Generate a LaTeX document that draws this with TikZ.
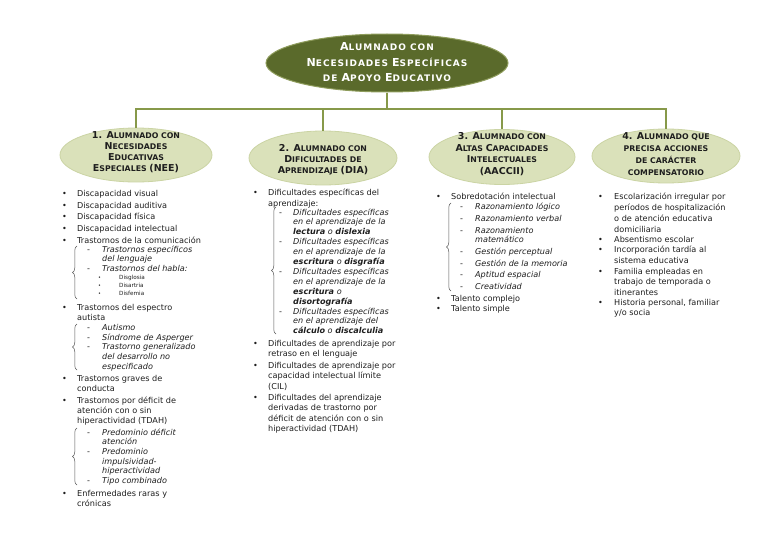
\documentclass[tikz,border=0pt]{standalone}
\usepackage{fontspec}
\setmainfont{DejaVu Sans}
\usetikzlibrary{shapes.geometric,decorations.pathreplacing}
\definecolor{darkolive}{HTML}{5A6A2B}
\definecolor{oliveedge}{HTML}{8E9C5C}
\definecolor{sage}{HTML}{DAE1BA}
\definecolor{sageedge}{HTML}{CBD4A4}
\definecolor{connc}{HTML}{87994A}
\definecolor{txtc}{HTML}{1E1E1E}
\definecolor{bracec}{HTML}{555555}
\newcommand\mainsz{\fontsize{8.15}{10.5}\selectfont}
\newcommand\subsz{\fontsize{8.1}{9.7}\selectfont\itshape}
\newcommand\smsz{\fontsize{5.7}{8}\selectfont}
\newcommand\hB[1]{{\fontsize{9.5}{11}\selectfont #1}}
\newcommand\tB[1]{{\fontsize{11}{15.5}\selectfont #1}}
\newcommand\Bul{\makebox[15pt][l]{•}}
\newcommand\BulW{\makebox[16pt][l]{•}}
\newcommand\Ind{\hspace*{15pt}}
\newcommand\IndW{\hspace*{16pt}}
\newcommand\Dsh{\makebox[15pt][l]{\upshape -}}
\newcommand\Dsi{\makebox[14pt][l]{\upshape -}}
\newcommand\Ids{\hspace*{14pt}}
\newcommand\Sdot{\makebox[21pt][l]{{\fontsize{5}{5}\selectfont •}}}
\newcommand\firstrule{\rule{0pt}{8pt}}
\tikzset{
  conn/.style={draw=connc, line width=1.8pt},
  topell/.style={ellipse, fill=darkolive, draw=oliveedge, line width=1pt,
    minimum width=242pt, minimum height=58pt, inner sep=0pt},
  kidell/.style={ellipse, fill=sage, draw=sageedge, line width=0.8pt, inner sep=0pt},
  toptxt/.style={text=white, inner sep=0pt, align=center,
    font=\bfseries\addfontfeature{LetterSpace=11}\fontsize{9}{15.5}\selectfont},
  kidtxt/.style={text=txtc, inner sep=0pt, align=center,
    font=\bfseries\fontsize{7.8}{11}\selectfont},
  itm/.style={anchor=north west, yshift=6pt, inner sep=0pt, align=left,
    text=txtc, font=\mainsz, execute at begin node=\firstrule},
  subitm/.style={itm, font=\subsz},
  smitm/.style={itm, font=\smsz},
  brc/.style={draw=bracec, line width=0.5pt, decorate,
    decoration={brace, amplitude=4.5pt}}
}
\begin{document}
\begin{tikzpicture}[x=1pt,y=-1pt]
\useasboundingbox[fill=white] (0,0) rectangle (768,543);

% ellipses
\node[topell] (top) at (387,63) {};
\node[toptxt] (toptext) at (387,62.5) {\tB{A}LUMNADO CON\\\tB{N}ECESIDADES \tB{E}SPECÍFICAS\\DE \tB{A}POYO \tB{E}DUCATIVO};

\node[kidell, minimum width=152pt, minimum height=54pt] (c1) at (136,155) {};
\node[kidell, minimum width=148pt, minimum height=54pt] (c2) at (323,158) {};
\node[kidell, minimum width=146pt, minimum height=55pt] (c3) at (502,157) {};
\node[kidell, minimum width=148pt, minimum height=54pt] (c4) at (666,156) {};

\node[kidtxt] (t1) at (136,152) {\hB{1. A}LUMNADO CON\\\hB{N}ECESIDADES\\\hB{E}DUCATIVAS\\\hB{E}SPECIALES \hB{(NEE)}};
\node[kidtxt] (t2) at (323,159.5) {\hB{2. A}LUMNADO CON\\\hB{D}IFICULTADES DE\\\hB{A}PRENDIZAJE \hB{(DIA)}};
\node[kidtxt, font=\bfseries\fontsize{7.8}{11.7}\selectfont] (t3) at (502,154) {\hB{3. A}LUMNADO CON\\\hB{A}LTAS \hB{C}APACIDADES\\\hB{I}NTELECTUALES\\\hB{(AACCII)}};
\node[kidtxt, font=\bfseries\fontsize{7.8}{12}\selectfont] (t4) at (666,154) {\hB{4. A}LUMNADO QUE\\PRECISA ACCIONES\\DE CARÁCTER\\COMPENSATORIO};

% connectors
\coordinate (bus) at (0,109);
\draw[conn] (c1.north) -- (c1.north |- bus) -- (c4.north |- bus) -- (c4.north);
\draw[conn] (top.south) -- (top.south |- bus);
\draw[conn] (c2.north |- bus) -- (c2.north);
\draw[conn] (c3.north |- bus) -- (c3.north);

% column 1
\node[itm] (n1a) at (62,194.7) {\Bul Discapacidad visual};
\node[itm] (n1b) at (62,206.2) {\Bul Discapacidad auditiva};
\node[itm] (n1c) at (62,217.7) {\Bul Discapacidad física};
\node[itm] (n1d) at (62,229.7) {\Bul Discapacidad intelectual};
\node[itm] (n1e) at (62,241.2) {\Bul Trastornos de la comunicación};
\node[subitm, font=\fontsize{8.1}{9.5}\selectfont\itshape] (s1a) at (87,251.4) {\Dsh Trastornos específicos\\\Ind del lenguaje\\\Dsh Trastornos del habla:};
\node[smitm] (m1a) at (98,281) {\Sdot Disglosia\\\Sdot Disartria\\\Sdot Disfemia};
\draw[brc] (77,299) -- (77,246);
\node[itm, font=\fontsize{8.15}{10}\selectfont] (n1f) at (62,309.7) {\Bul Trastornos del espectro\\\Ind autista};
\node[subitm, font=\fontsize{8.1}{9.6}\selectfont\itshape] (s1b) at (87,330.4) {\Dsh Autismo\\\Dsh Síndrome de Asperger\\\Dsh Trastorno generalizado\\\Ind del desarrollo no\\\Ind especificado};
\draw[brc] (77,370) -- (77,324);
\node[itm, font=\fontsize{8.15}{10}\selectfont] (n1g) at (62,380.7) {\Bul Trastornos graves de\\\Ind conducta};
\node[itm, font=\fontsize{8.15}{9.8}\selectfont] (n1h) at (62,403.2) {\Bul Trastornos por déficit de\\\Ind atención con o sin\\\Ind hiperactividad (TDAH)};
\node[subitm] (s1c) at (87,434.4) {\Dsh Predominio déficit\\\Ind atención\\\Dsh Predominio\\\Ind impulsividad-\\\Ind hiperactividad\\\Dsh Tipo combinado};
\draw[brc] (77,485) -- (77,428);
\node[itm, font=\fontsize{8.15}{10}\selectfont] (n1i) at (62,495.7) {\Bul Enfermedades raras y\\\Ind crónicas};

% column 2
\node[itm, font=\fontsize{8.15}{11}\selectfont] (n2a) at (253,194.7) {\Bul Dificultades específicas del\\\Ind aprendizaje:};
\node[subitm, font=\fontsize{8.1}{9.9}\selectfont\itshape] (s2a) at (279,214.4) {\Dsi Dificultades específicas\\\Ids en el aprendizaje de la\\\Ids \textbf{lectura} o \textbf{dislexia}\\\Dsi Dificultades específicas\\\Ids en el aprendizaje de la\\\Ids \textbf{escritura} o \textbf{disgrafía}\\\Dsi Dificultades específicas\\\Ids en el aprendizaje de la\\\Ids \textbf{escritura} o\\\Ids \textbf{disortografía}\\\Dsi Dificultades específicas\\\Ids en el aprendizaje del\\\Ids \textbf{cálculo} o \textbf{discalculia}};
\draw[brc] (276,334) -- (276,207);
\node[itm] (n2b) at (253,345.7) {\Bul Dificultades de aprendizaje por\\\Ind retraso en el lenguaje};
\node[itm] (n2c) at (253,367.7) {\Bul Dificultades de aprendizaje por\\\Ind capacidad intelectual límite\\\Ind (CIL)};
\node[itm] (n2d) at (253,399.7) {\Bul Dificultades del aprendizaje\\\Ind derivadas de trastorno por\\\Ind déficit de atención con o sin\\\Ind hiperactividad (TDAH)};

% column 3
\node[itm] (n3a) at (436,197.7) {\Bul Sobredotación intelectual};
\node[subitm, font=\fontsize{8.1}{9.3}\selectfont\itshape] (s3a) at (460,208.4) {\Dsh Razonamiento lógico\\[3pt]\Dsh Razonamiento verbal\\[3pt]\Dsh Razonamiento\\\Ind matemático\\[2pt]\Dsh Gestión perceptual\\[2.5pt]\Dsh Gestión de la memoria\\[2.5pt]\Dsh Aptitud espacial\\[2pt]\Dsh Creatividad};
\draw[brc] (451,291) -- (451,203);
\node[itm] (n3b) at (436,299.7) {\Bul Talento complejo};
\node[itm] (n3c) at (436,309.7) {\Bul Talento simple};

% column 4
\node[itm, font=\fontsize{8.15}{10.9}\selectfont] (n4a) at (598,198.7) {\BulW Escolarización irregular por\\\IndW períodos de hospitalización\\\IndW o de atención educativa\\\IndW domiciliaria};
\node[itm] (n4b) at (598,240.7) {\BulW Absentismo escolar};
\node[itm, font=\fontsize{8.15}{10.9}\selectfont] (n4c) at (598,251.7) {\BulW Incorporación tardía al\\\IndW sistema educativa};
\node[itm, font=\fontsize{8.15}{10.7}\selectfont] (n4d) at (598,273.7) {\BulW Familia empleadas en\\\IndW trabajo de temporada o\\\IndW itinerantes};
\node[itm, font=\fontsize{8.15}{10.9}\selectfont] (n4e) at (598,304.7) {\BulW Historia personal, familiar\\\IndW y/o socia};
\end{tikzpicture}
\end{document}
